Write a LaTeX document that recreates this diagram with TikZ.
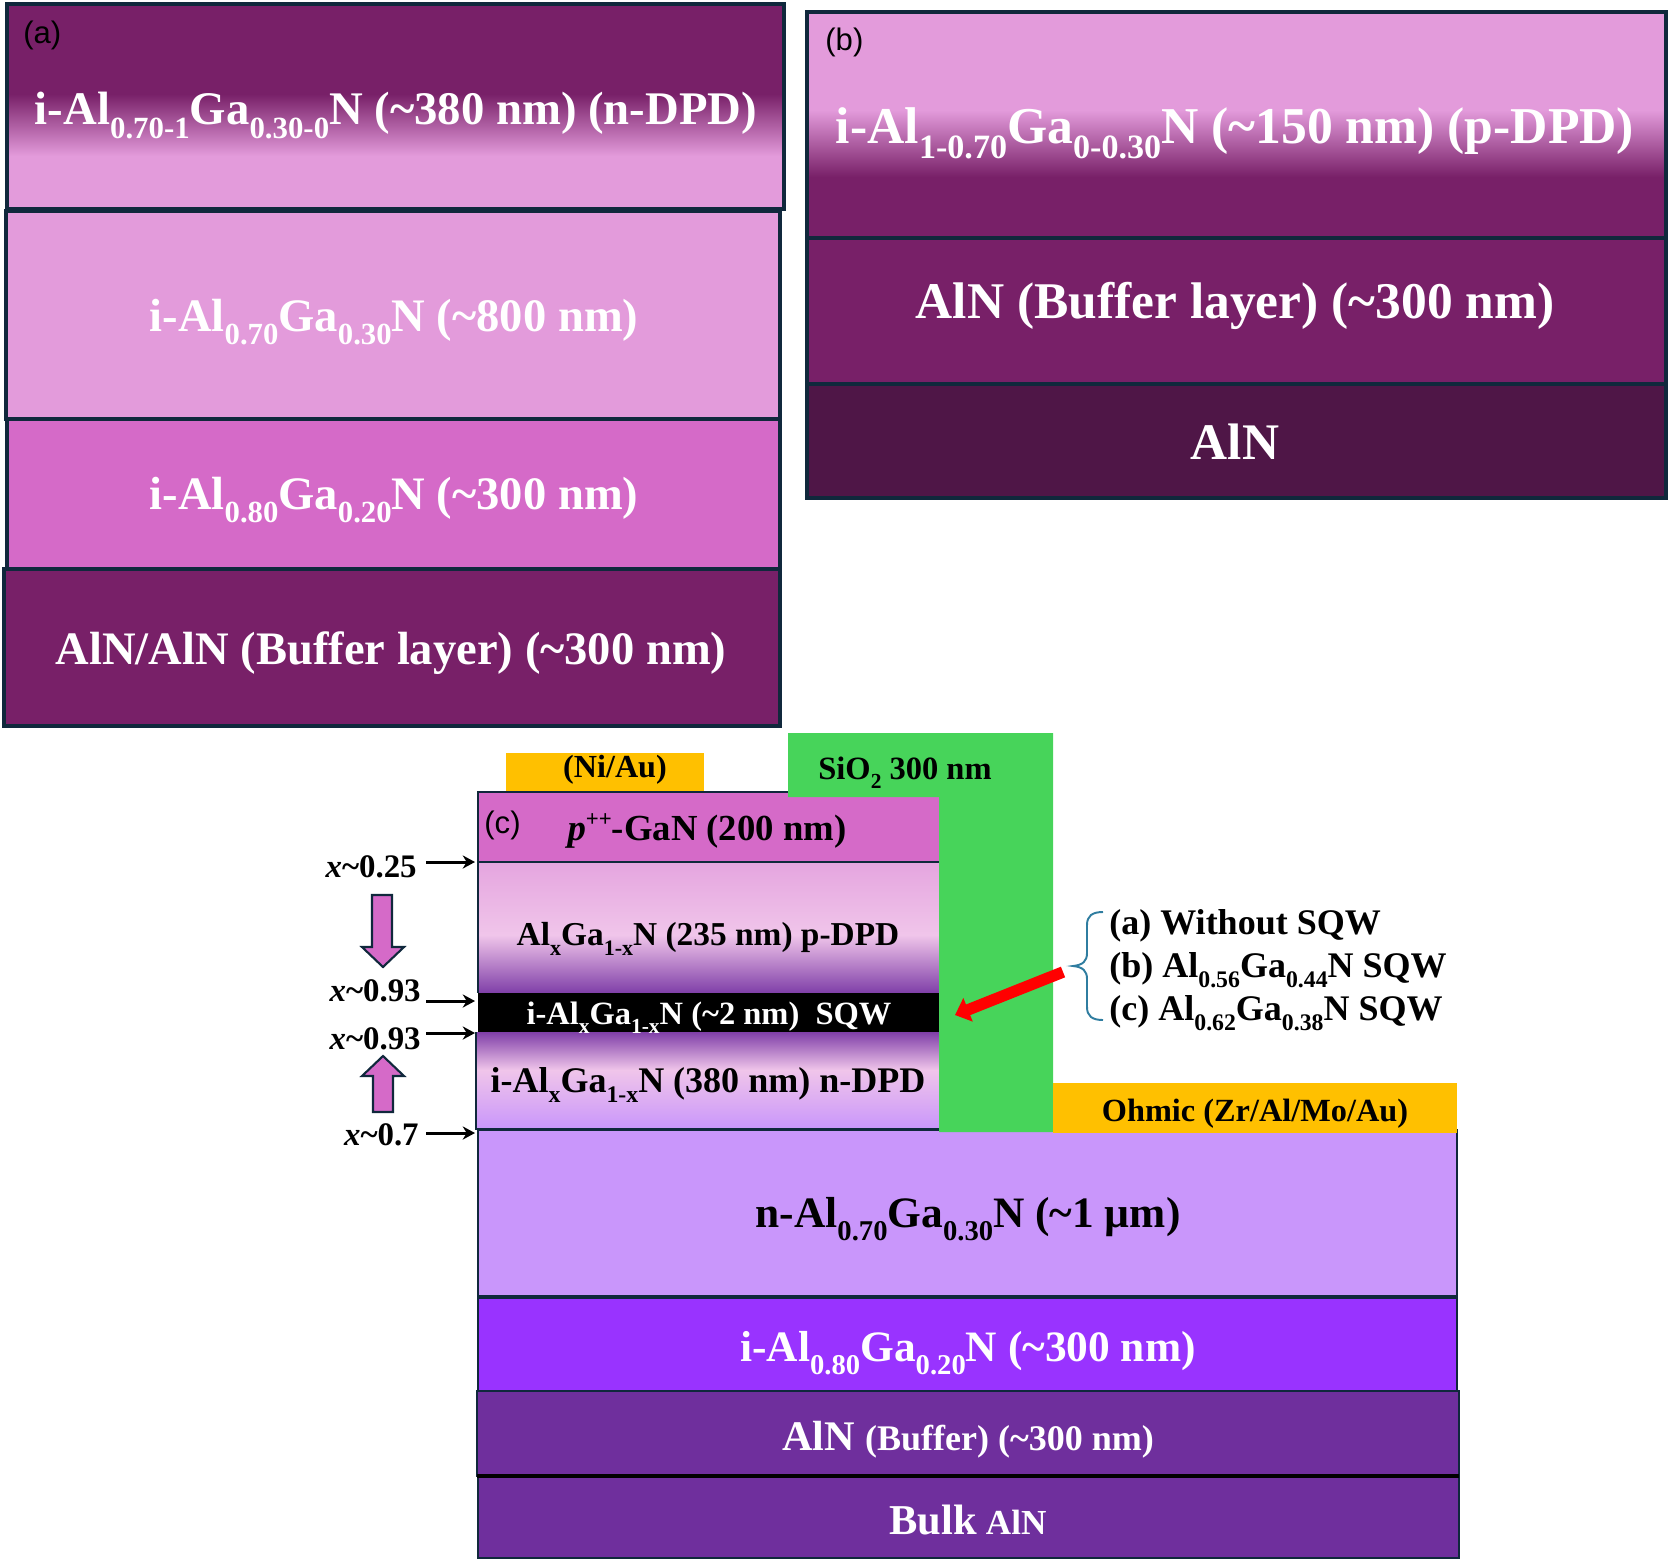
\documentclass[tikz,border=0pt]{standalone}
\usepackage{fontspec}
\setmainfont{Liberation Serif}
\setsansfont{Liberation Sans}
\usetikzlibrary{arrows.meta}
\definecolor{plumdark}{HTML}{782068}
\definecolor{plumdeep}{HTML}{4F1647}
\definecolor{pinklight}{HTML}{E39BDB}
\definecolor{pinkmid}{HTML}{D56AC8}
\definecolor{pinkpale}{HTML}{F0C5EA}
\definecolor{pinktop}{HTML}{E5A5DF}
\definecolor{violetedge}{HTML}{7F3FA8}
\definecolor{lilac}{HTML}{C996FB}
\definecolor{violet}{HTML}{9933FF}
\definecolor{violetdark}{HTML}{6F2F9D}
\definecolor{edgecol}{HTML}{10283C}
\definecolor{oxide}{HTML}{47D45A}
\definecolor{metal}{HTML}{FFC000}
\definecolor{bracecol}{HTML}{2F7DA0}
\newcommand{\fs}[1]{\fontsize{#1}{#1}\selectfont}
\newcommand{\lowsub}[1]{\raisebox{-0.3em}{\scalebox{0.66}{#1}}}
\newcommand{\highsup}[1]{\raisebox{0.36em}{\scalebox{0.62}{#1}}}
\newcommand{\appr}{\textasciitilde}
\tikzset{
    layer/.style={draw=edgecol,line width=1.8pt},
    slab/.style={draw=edgecol,line width=1.1pt},
    ltext/.style={anchor=base,inner sep=0pt,font=\bfseries\fs{#1}},
    wtext/.style={ltext=#1,text=white},
    panel/.style={anchor=base west,inner sep=0pt,font=\sffamily\fs{17.7}},
    xtext/.style={anchor=base east,inner sep=0pt,font=\bfseries\fs{18.7}},
    legend/.style={anchor=base west,inner sep=0pt,font=\bfseries\fs{20.5}},
    xarrow/.style={-{Stealth[length=7pt,width=7.5pt]},line width=1.7pt},
    blockarr/.style={draw=edgecol,fill=pinkmid,line width=1.2pt,line join=miter}
}

\begin{document}
\begin{tikzpicture}[x=0.02cm,y=-0.02cm]
    \useasboundingbox (0,0) rectangle (1669,1562);

    % panel a
    \fill[plumdark] (7,4) rectangle (784,94);
    \shade[top color=plumdark,bottom color=pinklight] (7,94) rectangle (784,156);
    \fill[pinklight] (7,156) rectangle (784,209);
    \draw[layer] (7,4) rectangle (784,209);
    \draw[layer,fill=pinklight] (6,211) rectangle (780,419);
    \draw[layer,fill=pinkmid] (7,419) rectangle (780,569);
    \draw[layer,fill=plumdark] (4,569) rectangle (780,726);

    \node[panel] (pa) at (23,43) {(a)};
    \node[wtext=26.6] (a1) at (396,124) {i-Al\lowsub{0.70-1}Ga\lowsub{0.30-0}N (\appr380 nm) (n-DPD)};
    \node[wtext=26.5] (a2) at (394,331) {i-Al\lowsub{0.70}Ga\lowsub{0.30}N (\appr800 nm)};
    \node[wtext=26.5] (a3) at (394,509) {i-Al\lowsub{0.80}Ga\lowsub{0.20}N (\appr300 nm)};
    \node[wtext=26.5] (a4) at (391,664) {AlN/AlN (Buffer layer) (\appr300 nm)};

    % panel b
    \fill[pinklight] (807,12) rectangle (1666,110);
    \shade[top color=pinklight,bottom color=plumdark] (807,110) rectangle (1666,177);
    \fill[plumdark] (807,177) rectangle (1666,238);
    \draw[layer] (807,12) rectangle (1666,238);
    \draw[layer,fill=plumdark] (807,238) rectangle (1666,384);
    \draw[layer,fill=plumdeep] (807,384) rectangle (1666,498);

    \node[panel] (pb) at (825,50) {(b)};
    \node[wtext=29.4] (b1) at (1235,143) {i-Al\lowsub{1-0.70}Ga\lowsub{0-0.30}N (\appr150 nm) (p-DPD)};
    \node[wtext=29.3] (b2) at (1235,318) {AlN (Buffer layer) (\appr300 nm)};
    \node[wtext=29.2] (b3) at (1235,459) {AlN};

    % panel c, lower layers
    \draw[slab,fill=lilac] (478,1130) rectangle (1457,1297);
    \draw[slab,fill=violet] (478,1297) rectangle (1457,1391);
    \draw[slab,fill=violetdark] (477,1391) rectangle (1459,1476);
    \draw[slab,fill=violetdark] (478,1476) rectangle (1459,1558);
    \draw[edgecol,line width=2.4pt] (478,1297) -- (1457,1297);
    \draw[black,line width=2.6pt] (477,1476) -- (1459,1476);

    % panel c, mesa
    \fill[pinkmid] (478,792) rectangle (939,862);
    \draw[slab] (939,792) -- (478,792) -- (478,993);
    \shade[top color=pinktop,bottom color=pinkpale] (478,862) rectangle (939,935);
    \shade[top color=pinkpale,bottom color=violetedge] (478,935) rectangle (939,993);
    \draw[slab] (478,862) -- (939,862);
    \draw[slab] (478,862) -- (478,993);
    \fill[black] (478,993) rectangle (939,1032);
    \shade[top color=violetedge,bottom color=pinkpale] (476,1032) rectangle (939,1070);
    \shade[top color=pinkpale,bottom color=lilac] (476,1070) rectangle (939,1129);
    \draw[slab] (476,1032) -- (476,1129) -- (939,1129);

    \fill[oxide] (788,733) -- (1053,733) -- (1053,1132) -- (939,1132) -- (939,797) -- (788,797) -- cycle;
    \fill[metal] (506,753) rectangle (704,791);
    \fill[metal] (1053,1083) rectangle (1457,1133);

    \node[ltext=18.3] (cnt1) at (615,777) {(Ni/Au)};
    \node[ltext=18.5] (sio) at (905,779) {SiO\lowsub{2} 300 nm};
    \node[ltext=18.4] (cnt2) at (1255,1121) {Ohmic (Zr/Al/Mo/Au)};
    \node[panel] (pc) at (484,833) {(c)};
    \node[ltext=20.9] (c1) at (707,840) {\textit{p}\highsup{++}-GaN (200 nm)};
    \node[ltext=19] (c2) at (708,945) {Al\lowsub{x}Ga\lowsub{1-x}N (235 nm) p-DPD};
    \node[wtext=18.5] (c3) at (709,1024) {i-Al\lowsub{x}Ga\lowsub{1-x}N (\appr2 nm)\ \ SQW};
    \node[ltext=20.5] (c4) at (708,1092) {i-Al\lowsub{x}Ga\lowsub{1-x}N (380 nm) n-DPD};
    \node[ltext=24.7] (c5) at (968,1227) {n-Al\lowsub{0.70}Ga\lowsub{0.30}N (\appr1 µm)};
    \node[wtext=24.7] (c6) at (968,1361) {i-Al\lowsub{0.80}Ga\lowsub{0.20}N (\appr300 nm)};
    \node[wtext=24] (c7) at (968,1450) {AlN {\fs{20.5}(Buffer) (\appr300 nm)}};
    \node[wtext=24.2] (c8) at (968,1534) {Bulk{\hspace{-1pt}} {\fs{20}AlN}};

    % composition marks
    \node[xtext] (x1) at (417,877) {\textit{x}\appr0.25};
    \node[xtext] (x2) at (421,1001) {\textit{x}\appr0.93};
    \node[xtext] (x3) at (421,1049) {\textit{x}\appr0.93};
    \node[xtext] (x4) at (419,1145) {\textit{x}\appr0.7};

    \coordinate (s1) at (426,862);
    \coordinate (e1) at (475,862);
    \coordinate (s2) at (426,1001);
    \coordinate (e2) at (475,1001);
    \coordinate (s3) at (426,1033);
    \coordinate (e3) at (475,1033);
    \coordinate (s4) at (426,1133);
    \coordinate (e4) at (475,1133);
    \foreach \i in {1,2,3,4}
        \draw[xarrow] (s\i) -- (e\i);

    \draw[blockarr] (372,895) -- (392,895) -- (392,947) -- (404,947) -- (383,967) -- (362,947) -- (372,947) -- cycle;
    \draw[blockarr] (373,1112) -- (393,1112) -- (393,1076) -- (404,1076) -- (383,1056) -- (362,1076) -- (373,1076) -- cycle;

    % sqw callout
    \coordinate (r1) at (1063,972);
    \coordinate (r2) at (955,1015);
    \draw[red,line width=6.5pt,-{Triangle[length=8pt,width=14pt]}] (r1) -- (r2);

    \draw[bracecol,line width=1.1pt] (1103,912) .. controls (1092,912) and (1087,916) .. (1087,925) -- (1087,953) .. controls (1087,961) and (1083,965) .. (1073,966) .. controls (1083,967) and (1087,971) .. (1087,979) -- (1087,1007) .. controls (1087,1016) and (1092,1020) .. (1103,1020);

    \node[legend] (l1) at (1109,934) {(a) Without SQW};
    \node[legend] (l2) at (1109,977) {(b) Al\lowsub{0.56}Ga\lowsub{0.44}N SQW};
    \node[legend] (l3) at (1109,1020) {(c) Al\lowsub{0.62}Ga\lowsub{0.38}N SQW};
\end{tikzpicture}
\end{document}
